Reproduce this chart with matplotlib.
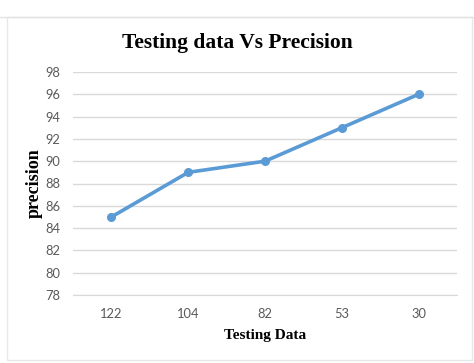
import matplotlib
matplotlib.use("Agg")
import matplotlib.pyplot as plt
from matplotlib.patches import Rectangle

# datos
testing_data = ["122", "104", "82", "53", "30"]
precision = [85, 89, 90, 93, 96]
y_ticks = [78, 80, 82, 84, 86, 88, 90, 92, 94, 96, 98]

BLUE = "#5B9BD5"
GRID = "#D9D9D9"
TICK = "#595959"
SERIF = "Liberation Serif"

fig = plt.figure(figsize=(4.74, 3.63), dpi=100)
fig.patch.set_facecolor("white")

# texto del articulo cortado arriba (solo se ven los descendentes)
fig.text(81 / 474, 1.0 + 4.0 / 363, "obtained by using the test results suggest the p",
         fontsize=14, family=SERIF, color="black", ha="left", va="baseline")

# marco del grafico
fig.add_artist(plt.Line2D([0, 1], [1 - 17 / 363] * 2, transform=fig.transFigure,
                          color="#E3E3E3", linewidth=1.0))
fig.patches.append(Rectangle((7 / 474, 3 / 363), 465 / 474, 343 / 363,
                             transform=fig.transFigure, fill=False,
                             edgecolor="#E8E8E8", linewidth=1.0))

ax = fig.add_axes([73 / 474, 1 - 295 / 363, 384 / 474, 223 / 363])
x = list(range(len(testing_data)))
ax.plot(x, precision, color=BLUE, linewidth=2.6, marker="o", markersize=5.5,
        solid_capstyle="round", zorder=3)

ax.set_xlim(-0.5, len(testing_data) - 0.5)
ax.set_ylim(78, 98)
ax.set_yticks(y_ticks)
ax.set_xticks(x)
ax.set_xticklabels(testing_data)
ax.grid(axis="y", color=GRID, linewidth=1.0)
ax.set_axisbelow(True)
for s in ["top", "right", "left"]:
    ax.spines[s].set_visible(False)
ax.spines["bottom"].set_color(GRID)
ax.tick_params(axis="both", length=0, labelsize=9.3, colors=TICK, labelfontfamily="Lato")
ax.tick_params(axis="y", pad=9)
ax.tick_params(axis="x", pad=9)

fig.text(237 / 474, 1 - 43 / 363, "Testing data Vs Precision", fontsize=15.5,
         fontweight="bold", family=SERIF, ha="center", va="center")
ax.set_xlabel("Testing Data", fontsize=11, fontweight="bold", family=SERIF, labelpad=7)
ax.set_ylabel("precision", fontsize=13, fontweight="bold", family=SERIF, labelpad=2)

fig.savefig("out.png", dpi=100)
